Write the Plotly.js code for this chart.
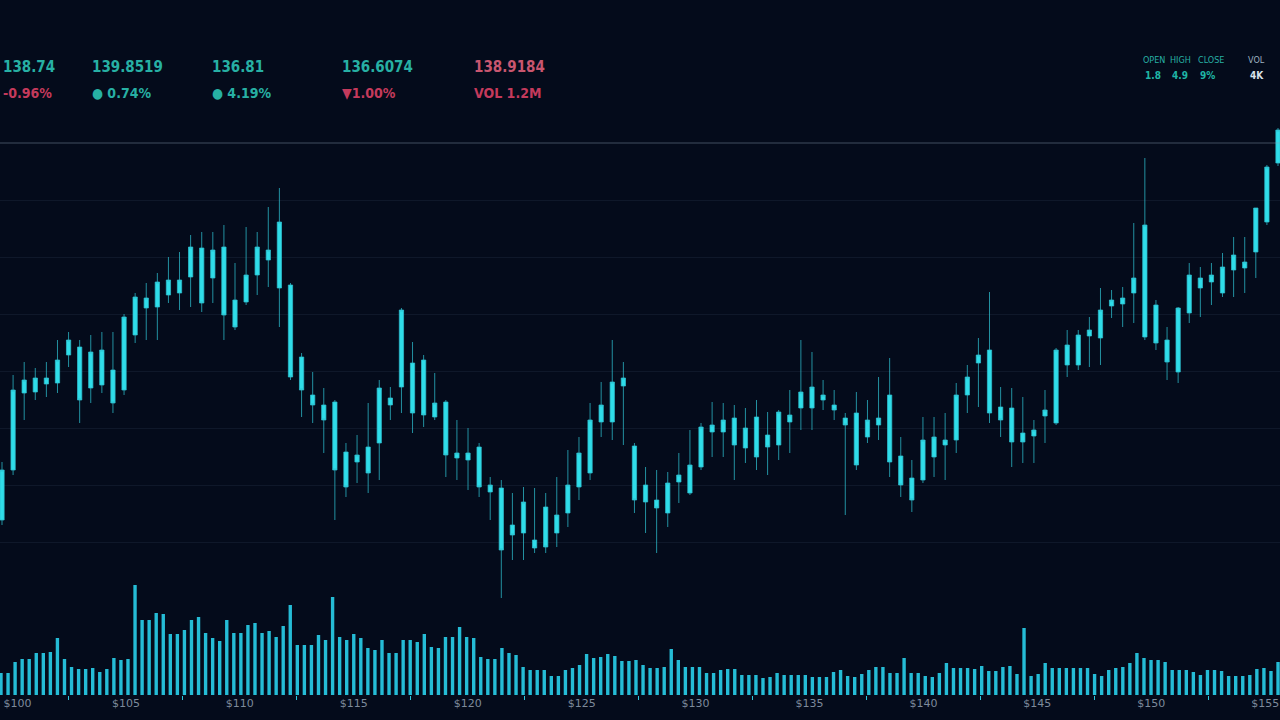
<!DOCTYPE html>
<html>
<head>
<meta charset="utf-8">
<script src="https://cdn.plot.ly/plotly-3.0.1.min.js"></script>
<style>
  html, body { margin: 0; padding: 0; background: #040b1b; }
  #chart { width: 1280px; height: 720px; }
</style>
</head>
<body>
<div id="chart"></div>
<script>
// ---- candle data (one entry per session) ----
const openP  = [56,66,81.4,81.6,83.2,83.4,89,90.6,82.4,83,86,82,93,98.4,98.6,101,101.4,104.6,110.4,104.4,
  110.6,100,99.6,105,108,102.4,103,88.6,81,79,79.6,69.6,67.6,70.6,71.4,79,82.6,87.4,88,76.6,
  79.6,68.4,68,70.6,61.6,62.4,55,53.4,52,58.6,53.4,57.4,62.6,65.4,75.6,75.6,82.8,70.8,63,60,
  57.4,63.6,61.4,66.6,73.6,73.6,76.4,70.4,76.6,73,71,75.6,78.4,78.4,80,79,76.4,77.4,72.6,75,
  81,68.8,64.4,64,68.6,71,72,81,87.4,90,78.6,78.4,73.4,72.8,76.8,75.4,87,87,92.8,92.4,
  98.8,99.2,101.4,92.6,99,92,85.6,97.4,102.4,103.6,101.4,106,106.4,109.6,115.6,127.4];
const highP  = [67.6,85,87.6,86.4,87.6,92,93.6,92,93,93.6,93.6,97.2,101.4,103.4,105.4,108.6,109.6,113,113.6,113.6,
  115,107.4,114.6,113.6,118.6,122.4,103.4,89.4,85.6,82.4,80,71.4,73,79.4,84,82.6,98.4,91.6,89,85.4,
  80,76,74.4,71.4,64.6,64,61.4,62.6,62.4,61.4,64.6,70,72.6,79.4,83.6,92,87.6,71.4,66.6,66,
  65.6,69.4,74,75.4,79.6,79.4,79,78.4,80,77.6,78,82,92,89.6,84,82,77.4,81.6,80,84.6,
  88.4,72.6,68,76.6,76.6,77.4,83.4,87,92.4,101.6,82.6,82.4,80.6,76,82,90.4,94,94,96.6,102.4,
  102,102.6,115.4,128.4,100,94.6,98.6,107.4,106.6,107.4,109.4,112.6,112.6,118.4,127,134.4];
const lowP   = [55,65,76,80,80.6,81.4,86.6,75.4,79.4,81.4,77.4,81,91.4,92,92,99.4,98,98.6,97.6,99.4,
  92,94,99,101,102.6,94.6,84,76.6,75.4,69.4,56,60.6,63.4,61.4,64,76,77.4,73.4,74.6,76,
  64.6,64,62,60.6,56,40.4,48,48,49.4,49.4,50.6,54.6,60,64,72.6,72,71,57.4,53.4,49.4,
  54.6,59.4,61,66,68.6,68.6,64,67.4,66,65,68,69.4,74,74,78,76,57,66,71.4,72,
  64.6,60.6,57.6,63.4,64.6,64,69.4,77.4,78.6,75.4,72.6,66.6,67.4,67.4,71.4,75,84.6,86,86.6,87,
  96.4,94.6,95.4,92,90,84,83.4,95.4,96.6,99,100.6,100.6,101.4,104.4,115,126.8];
const closeP = [66,82,84,84.4,84.4,88,92,80,89.6,90,79.4,96.6,100.6,100.4,103.6,104,104,110.6,99.4,110,
  97,94.6,105,110.6,110,115.6,84.6,82,79,76,66,62.6,69,65.4,82.4,80.4,98,77.4,77,79.4,
  69,69.4,69.4,62.6,63,50,53,59.6,50.4,50.6,57,63,69.4,76,79,83.6,84.4,60,59.6,58.4,
  63.4,65,67,74.6,75,76,71,74.4,68.6,70.6,77.6,77,81.6,82.6,81,78,75,67,76,76.4,
  67.6,63,60,72,72.6,72,81,84.6,89,77.4,76,71.6,71.6,74,78,90,91,93,94,98,
  100,100.4,104.4,115,91.4,87.6,98.4,105,104.4,105,106.6,109,107.6,118.4,126.6,134];

// ---- volume (thousands), one bar per interval ----
const volume = [220,220,330,360,360,420,420,430,570,360,280,260,260,270,230,260,370,350,360,1100,
  750,750,820,810,610,610,650,750,780,620,570,540,750,620,620,700,720,620,640,580,690,900,
  500,500,500,600,550,980,580,550,610,570,470,450,550,420,420,550,550,530,610,480,
  470,580,580,680,580,570,380,360,360,470,420,400,280,250,250,250,190,190,250,270,
  300,410,370,380,410,390,340,340,350,300,270,270,280,460,350,280,280,280,220,220,
  250,260,260,200,200,200,170,180,220,200,200,200,200,180,180,180,230,250,190,180,
  210,250,280,280,220,220,370,220,220,190,180,220,320,270,270,270,260,290,240,240,
  280,290,210,670,190,210,320,270,270,270,270,270,270,210,190,250,270,280,320,420,
  370,350,350,330,250,250,250,230,200,250,250,240,190,190,190,200,260,270,240,330];

// ---- axis tick labels ----
const xTickLabels = ['$100','$105','$110','$115','$120','$125','$130','$135','$140','$145','$150','$155'];

// ---- header readouts ----
const headTop = ['138.74','139.8519','136.81','136.6074','138.9184'];
const headBot = ['-0.96%','\u25CF 0.74%','\u25CF 4.19%','\u25BC1.00%','VOL 1.2M'];

const nC = openP.length;
const idx = openP.map((_, i) => i);
const vIdx = volume.map((_, i) => i);

const cyan = '#2fdde9';

const traces = [
  {
    type: 'bar', x: vIdx, y: volume, xaxis: 'x2', yaxis: 'y2',
    marker: { color: 'rgba(40,204,230,0.92)', line: { width: 0 } },
    width: 0.48, hoverinfo: 'skip', showlegend: false
  },
  {
    type: 'candlestick', x: idx, open: openP, high: highP, low: lowP, close: closeP,
    increasing: { line: { color: 'rgba(45,190,205,0.75)', width: 1 }, fillcolor: cyan },
    decreasing: { line: { color: 'rgba(45,190,205,0.75)', width: 1 }, fillcolor: cyan },
    whiskerwidth: 0, hoverinfo: 'skip', showlegend: false
  }
];

// tick label positions spread evenly across the candle axis
const step = (nC - 1) / 11.2;
const tickVals = xTickLabels.map((_, i) => (i === 0 ? 1.4 : 0.9 + i * step));
const minorVals = xTickLabels.map((_, i) => 0.9 + (i + 0.5) * step);

const gridVals = [51.6, 63, 74.4, 85.8, 97.2, 108.6, 120];

const hdrFont = 'Liberation Sans Narrow, DejaVu Sans Condensed, Roboto, sans-serif';
const teal = '#27b0a4';
const red = '#c43a5c';
const topColors = [teal, teal, teal, teal, '#c9566f'];
const botColors = [red, teal, teal, red, red];
const colLeft = [1, 90, 210, 340, 472];
const H = 695;
function py(pixel) { return (H - pixel) / H; }

const annotations = [];
headTop.forEach((t, i) => {
  annotations.push({
    xref: 'paper', yref: 'paper', x: colLeft[i] / 1280, y: py(67),
    xanchor: 'left', yanchor: 'middle', showarrow: false,
    text: '<b>' + t + '</b>', font: { family: hdrFont, size: 15, color: topColors[i] }
  });
  annotations.push({
    xref: 'paper', yref: 'paper', x: colLeft[i] / 1280, y: py(93),
    xanchor: 'left', yanchor: 'middle', showarrow: false,
    text: '<b>' + headBot[i] + '</b>', font: { family: hdrFont, size: 14, color: botColors[i] }
  });
});

// small top-right readout
const trTop = ['OPEN', 'HIGH', 'CLOSE', 'VOL'];
const trBot = ['1.8', '4.9', '9%', '4K'];
const trX = [1141, 1168, 1196, 1246];
trTop.forEach((t, i) => {
  annotations.push({
    xref: 'paper', yref: 'paper', x: trX[i] / 1280, y: py(60), xanchor: 'left', yanchor: 'middle',
    showarrow: false, text: t, font: { family: hdrFont, size: 9, color: i === 3 ? '#9fb2c0' : teal }
  });
  annotations.push({
    xref: 'paper', yref: 'paper', x: (trX[i] + 2) / 1280, y: py(75), xanchor: 'left', yanchor: 'middle',
    showarrow: false, text: '<b>' + trBot[i] + '</b>',
    font: { family: hdrFont, size: 10, color: i === 3 ? '#d8e2ea' : '#1fb5a6' }
  });
});

const layout = {
  width: 1280, height: 720,
  margin: { l: 0, r: 0, t: 0, b: 25, pad: 0 },
  paper_bgcolor: '#040b1b', plot_bgcolor: '#040b1b',
  showlegend: false, hovermode: false,
  boxgap: 0.45,
  xaxis: {
    range: [-0.18, nC - 1 + 0.18], rangeslider: { visible: false },
    showgrid: false, zeroline: false, showline: false,
    tickmode: 'array', tickvals: tickVals, ticktext: xTickLabels,
    ticks: '', ticklen: 0, ticklabeloverflow: 'allow',
    tickfont: { family: 'DejaVu Sans, sans-serif', size: 11, color: '#7d8a9b' },
    minor: { tickmode: 'array', tickvals: minorVals, ticks: 'outside', ticklen: 4, tickcolor: '#2cc6dc', showgrid: false },
    fixedrange: true
  },
  xaxis2: {
    overlaying: 'x', range: [-0.14, volume.length - 1 + 0.28],
    visible: false, showgrid: false, zeroline: false
  },
  yaxis: {
    range: [21, 160], domain: [0, 1],
    tickmode: 'array', tickvals: gridVals, showticklabels: false,
    showgrid: true, gridcolor: 'rgba(90,115,150,0.13)', gridwidth: 1,
    zeroline: false, showline: false, fixedrange: true
  },
  yaxis2: {
    overlaying: 'y', range: [0, 6950], visible: false, showgrid: false, zeroline: false
  },
  shapes: [
    { type: 'line', xref: 'paper', yref: 'y', x0: 0, x1: 1, y0: 131.4, y1: 131.4,
      line: { color: 'rgba(140,160,185,0.45)', width: 1 } }
  ],
  annotations: annotations
};

Plotly.newPlot('chart', traces, layout, { staticPlot: true, displayModeBar: false });
</script>
</body>
</html>
